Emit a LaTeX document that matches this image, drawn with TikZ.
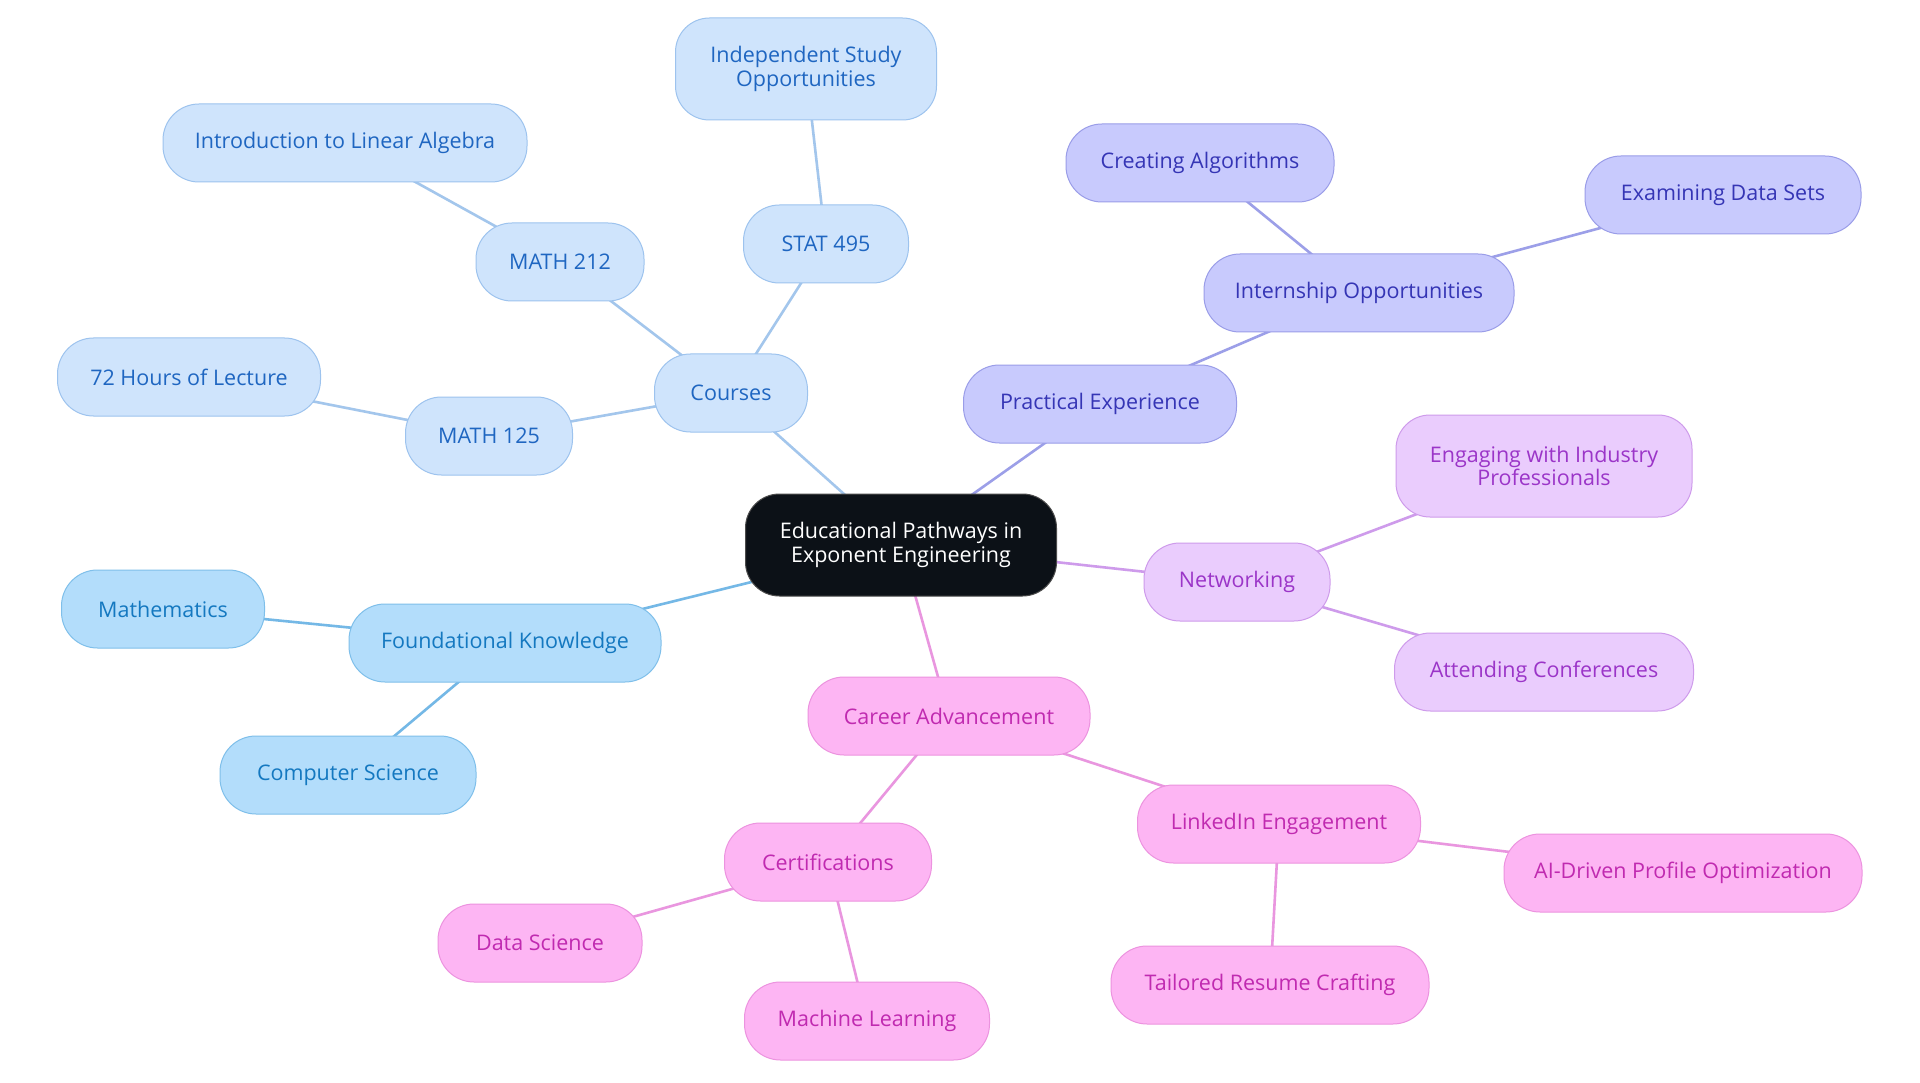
\documentclass[tikz,border=0pt]{standalone}
\usepackage{fontspec}
\setmainfont{Open Sans}
\pgfdeclarelayer{bg}\pgfsetlayers{bg,main}
\definecolor{bAf}{HTML}{CFE4FC}\definecolor{bAd}{HTML}{9DC3EE}\definecolor{bAt}{HTML}{1F66C1}\definecolor{bAl}{HTML}{A3C6EC}
\definecolor{bBf}{HTML}{B3DDFB}\definecolor{bBd}{HTML}{7FBFEA}\definecolor{bBt}{HTML}{1478C0}\definecolor{bBl}{HTML}{74B8E6}
\definecolor{pf}{HTML}{C8CAFD}\definecolor{pd}{HTML}{9A9DE8}\definecolor{pt}{HTML}{3535B5}\definecolor{pl}{HTML}{9C9FE8}
\definecolor{nf}{HTML}{EACCFD}\definecolor{nd}{HTML}{CE9BEB}\definecolor{nt}{HTML}{9B35C8}\definecolor{nl}{HTML}{CE9BEB}
\definecolor{cf}{HTML}{FDB5F3}\definecolor{cd}{HTML}{EC93DF}\definecolor{ct}{HTML}{C02AB0}\definecolor{cl}{HTML}{E996DF}
\definecolor{rootf}{HTML}{0C1117}
\begin{document}
\begin{tikzpicture}[x=1pt,y=-1pt,
  base/.style={draw, line width=1pt, align=center, font=\fontsize{21.5}{23.5}\selectfont, inner sep=0pt, minimum height=78pt, rounded corners=36pt},
  two/.style={minimum height=102pt, rounded corners=34pt},
  gA/.style={base, fill=bAf, draw=bAd, text=bAt},
  gB/.style={base, fill=bBf, draw=bBd, text=bBt},
  gP/.style={base, fill=pf, draw=pd, text=pt},
  gN/.style={base, fill=nf, draw=nd, text=nt},
  gC/.style={base, fill=cf, draw=cd, text=ct},
  lk/.style={line width=2.6pt}]
\path[use as bounding box] (0,0) rectangle (1920,1083);

\node[base, two, fill=rootf, draw=black!70, text=white, minimum width=311pt] (root) at (901,545) {Educational Pathways in\\Exponent Engineering};

\node[gA, minimum width=153pt] (courses) at (731,393) {Courses};
\node[gA, minimum width=165pt] (stat) at (826,244) {STAT 495};
\node[gA, two, minimum width=261pt] (indep) at (806,69) {Independent Study\\Opportunities};
\node[gA, minimum width=168pt] (m212) at (560,262) {MATH 212};
\node[gA, minimum width=364pt] (linalg) at (345,143) {Introduction to Linear Algebra};
\node[gA, minimum width=167pt] (m125) at (489,436) {MATH 125};
\node[gA, minimum width=263pt] (hours) at (189,377) {72 Hours of Lecture};

\node[gB, minimum width=312pt] (found) at (505,643) {Foundational Knowledge};
\node[gB, minimum width=203pt] (math) at (163,609) {Mathematics};
\node[gB, minimum width=256pt] (cs) at (348,775) {Computer Science};

\node[gP, minimum width=273pt] (prac) at (1100,404) {Practical Experience};
\node[gP, minimum width=310pt] (intern) at (1359,293) {Internship Opportunities};
\node[gP, minimum width=268pt] (algo) at (1200,163) {Creating Algorithms};
\node[gP, minimum width=276pt] (data) at (1723,195) {Examining Data Sets};

\node[gN, minimum width=186pt] (net) at (1237,582) {Networking};
\node[gN, two, minimum width=296pt] (eng) at (1544,466) {Engaging with Industry\\Professionals};
\node[gN, minimum width=299pt] (conf) at (1544,672) {Attending Conferences};

\node[gC, minimum width=282pt] (career) at (949,716) {Career Advancement};
\node[gC, minimum width=283pt] (linked) at (1279,824) {LinkedIn Engagement};
\node[gC, minimum width=358pt] (ai) at (1683,873) {AI-Driven Profile Optimization};
\node[gC, minimum width=318pt] (resume) at (1270,985) {Tailored Resume Crafting};
\node[gC, minimum width=207pt] (cert) at (828,862) {Certifications};
\node[gC, minimum width=204pt] (ds) at (540,943) {Data Science};
\node[gC, minimum width=245pt] (ml) at (867,1021) {Machine Learning};

\begin{pgfonlayer}{bg}
\fill[white] (0,0) rectangle (1920,1083);
\draw[lk, bAl] (root.center) -- (courses.center);
\draw[lk, bAl] (courses.center) -- (stat.center);
\draw[lk, bAl] (stat.center) -- (indep.center);
\draw[lk, bAl] (courses.center) -- (m212.center);
\draw[lk, bAl] (m212.center) -- (linalg.center);
\draw[lk, bAl] (courses.center) -- (m125.center);
\draw[lk, bAl] (m125.center) -- (hours.center);
\draw[lk, bBl] (root.center) -- (found.center);
\draw[lk, bBl] (found.center) -- (math.center);
\draw[lk, bBl] (found.center) -- (cs.center);
\draw[lk, pl] (root.center) -- (prac.center);
\draw[lk, pl] (prac.center) -- (intern.center);
\draw[lk, pl] (intern.center) -- (algo.center);
\draw[lk, pl] (intern.center) -- (data.center);
\draw[lk, nl] (root.center) -- (net.center);
\draw[lk, nl] (net.center) -- (eng.center);
\draw[lk, nl] (net.center) -- (conf.center);
\draw[lk, cl] (root.center) -- (career.center);
\draw[lk, cl] (career.center) -- (linked.center);
\draw[lk, cl] (linked.center) -- (ai.center);
\draw[lk, cl] (linked.center) -- (resume.center);
\draw[lk, cl] (career.center) -- (cert.center);
\draw[lk, cl] (cert.center) -- (ds.center);
\draw[lk, cl] (cert.center) -- (ml.center);
\end{pgfonlayer}
\end{tikzpicture}
\end{document}
